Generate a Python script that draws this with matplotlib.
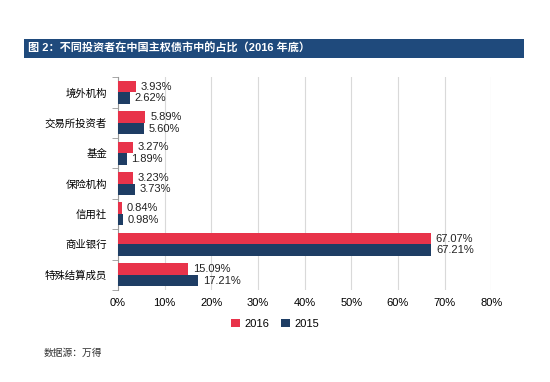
import matplotlib.pyplot as plt
import numpy as np
from matplotlib.patches import Rectangle

plt.rcParams['font.family'] = ['Liberation Sans', 'Noto Sans CJK SC', 'DejaVu Sans']

categories = ['境外机构', '交易所投资者', '基金', '保险机构', '信用社', '商业银行', '特殊结算成员']
share_2016 = [3.93, 5.89, 3.27, 3.23, 0.84, 67.07, 15.09]
share_2015 = [2.62, 5.60, 1.89, 3.73, 0.98, 67.21, 17.21]

red = '#E8334A'
navy = '#1E3D64'

fig = plt.figure(figsize=(5.5, 3.82), dpi=100)
ax = fig.add_axes([0.2145, 0.241, 0.6785, 0.557])

y = np.arange(len(categories))
h = 0.38
ax.barh(y - h / 2, share_2016, height=h, color=red, label='2016', zorder=3)
ax.barh(y + h / 2, share_2015, height=h, color=navy, label='2015', zorder=3)

for i in range(len(categories)):
    ax.text(share_2016[i] + 1, y[i] - h / 2, f'{share_2016[i]:.2f}%', va='center', ha='left', fontsize=8, color='#222222')
    ax.text(share_2015[i] + 1, y[i] + h / 2, f'{share_2015[i]:.2f}%', va='center', ha='left', fontsize=8, color='#222222')

ax.set_ylim(len(categories) - 0.5, -0.5)
ax.set_xlim(0, 80)
ax.set_xticks(np.arange(0, 81, 10))
ax.set_xticklabels([f'{v}%' for v in range(0, 81, 10)], fontsize=8)
ax.set_yticks(y)
ax.set_yticklabels(categories, fontsize=7.5)
ax.set_yticks(np.arange(-0.5, len(categories), 1), minor=True)
ax.tick_params(axis='y', which='major', length=0, pad=8)
ax.tick_params(axis='y', which='minor', length=4, color='#999999')
ax.tick_params(axis='x', length=0, pad=6)
ax.grid(axis='x', color='#D9D9D9', linewidth=0.8, zorder=0)
for s in ['top', 'right', 'bottom']:
    ax.spines[s].set_visible(False)
ax.spines['left'].set_color('#999999')

handles, labels = ax.get_legend_handles_labels()
fig.legend(handles, labels, loc='center', bbox_to_anchor=(0.5, 0.152), ncol=2, frameon=False,
           fontsize=8, handlelength=0.8, handleheight=0.8, columnspacing=1.0, handletextpad=0.4)

# title banner
fig.patches.append(Rectangle((24 / 550, 1 - 58 / 382), 500 / 550, 19 / 382, transform=fig.transFigure,
                             facecolor='#1F4A7C', edgecolor='none'))
fig.text(28 / 550, 1 - 48.5 / 382, '图 2：不同投资者在中国主权债市中的占比（2016 年底）', color='white',
         fontsize=8, fontweight='bold', va='center', ha='left')

fig.text(44 / 550, 1 - 353 / 382, '数据源：万得', fontsize=7, color='#333333', va='center')

fig.savefig('out.png', dpi=100, facecolor='white')
